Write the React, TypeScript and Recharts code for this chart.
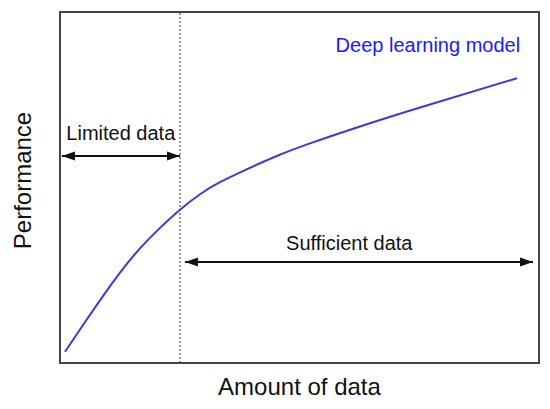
import { ComposedChart, Line, XAxis, YAxis, ReferenceArea, ReferenceLine, ReferenceDot } from 'recharts';

// curve: amount of data (x) vs performance (y), both on a 0-100 scale
const amount = [1.04, 4.7, 8.35, 12.53, 16.7, 20.88, 25.05, 29.23, 33.4, 38.62, 44.89, 52.19, 62.63, 75.16, 95.41];
const performance = [3.2, 10.63, 17.86, 25.75, 32.65, 38.49, 43.66, 48.09, 51.51, 54.96, 58.77, 62.56, 67.38, 72.79, 81.14];

// where "limited" ends and "sufficient" begins
const splitAt = 25.05;

// the two double arrows
const arrowLevels = [59.0, 28.8];
const arrowStarts = [0.4, 26.1];
const arrowEnds = [25.05, 98.75];

// annotations
const noteTexts = ['Limited data', 'Sufficient data', 'Deep learning model'];
const noteX = [12.7, 60.4, 76.8];
const noteY = [63.5, 32.2, 88.6];

const FONT = '"Liberation Sans", Arial, sans-serif';
const INK = '#111';
const BLUE = '#1a1aff';

const curve = amount.map((x, i) => ({ x, y: performance[i] }));

const Head = ({ cx, cy, dir }: { cx: number; cy: number; dir: number }) => (
  <polygon
    points={`${cx},${cy} ${cx - dir * 13},${cy - 4.5} ${cx - dir * 13},${cy + 4.5}`}
    fill={INK}
  />
);

const XTitle = ({ viewBox }: any) => (
  <text
    x={viewBox.x + viewBox.width / 2}
    y={viewBox.y + 32}
    textAnchor="middle"
    fontSize={24}
    fontFamily={FONT}
    fill={INK}
  >
    Amount of data
  </text>
);

const YTitle = ({ viewBox }: any) => {
  const cx = viewBox.x + 22;
  const cy = viewBox.y + viewBox.height / 2 - 7;
  return (
    <text
      x={cx}
      y={cy}
      transform={`rotate(-90 ${cx} ${cy})`}
      textAnchor="middle"
      dominantBaseline="central"
      fontSize={24}
      fontFamily={FONT}
      fill={INK}
    >
      Performance
    </text>
  );
};

export default function App() {
  return (
    <div style={{ position: 'absolute', left: 0, top: 0, fontFamily: FONT, background: '#fff' }}>
      <ComposedChart width={550} height={409} margin={{ top: 12, right: 11, bottom: 0, left: 0 }}>
        <XAxis
          dataKey="x"
          type="number"
          domain={[0, 100]}
          allowDataOverflow
          height={46}
          tick={false}
          tickLine={false}
          axisLine={false}
          label={{ content: XTitle }}
        />
        <YAxis
          type="number"
          domain={[0, 100]}
          allowDataOverflow
          width={60}
          tick={false}
          tickLine={false}
          axisLine={false}
          label={{ content: YTitle }}
        />
        <ReferenceArea x1={0} x2={100} y1={0} y2={100} fill="none" stroke="#444" strokeWidth={2} />
        <ReferenceLine x={splitAt} stroke="#333" strokeDasharray="2 2" strokeWidth={1} />
        {arrowLevels.map((y, i) => (
          <ReferenceLine
            key={`a${i}`}
            segment={[{ x: arrowStarts[i], y }, { x: arrowEnds[i], y }]}
            stroke={INK}
            strokeWidth={2}
          />
        ))}
        {arrowLevels.map((y, i) => (
          <ReferenceDot
            key={`l${i}`}
            x={arrowStarts[i]}
            y={y}
            shape={(p: any) => <Head cx={p.cx} cy={p.cy} dir={-1} />}
          />
        ))}
        {arrowLevels.map((y, i) => (
          <ReferenceDot
            key={`r${i}`}
            x={arrowEnds[i]}
            y={y}
            shape={(p: any) => <Head cx={p.cx} cy={p.cy} dir={1} />}
          />
        ))}
        <Line
          data={curve}
          dataKey="y"
          type="natural"
          stroke="#3b3bdb"
          strokeWidth={2}
          dot={false}
          activeDot={false}
          isAnimationActive={false}
        />
        {noteTexts.map((t, i) => (
          <ReferenceDot
            key={`n${i}`}
            x={noteX[i]}
            y={noteY[i]}
            shape={(p: any) => (
              <text
                x={p.cx}
                y={p.cy}
                textAnchor="middle"
                fontSize={20}
                fontFamily={FONT}
                fill={i === 2 ? BLUE : INK}
              >
                {t}
              </text>
            )}
          />
        ))}
      </ComposedChart>
    </div>
  );
}
